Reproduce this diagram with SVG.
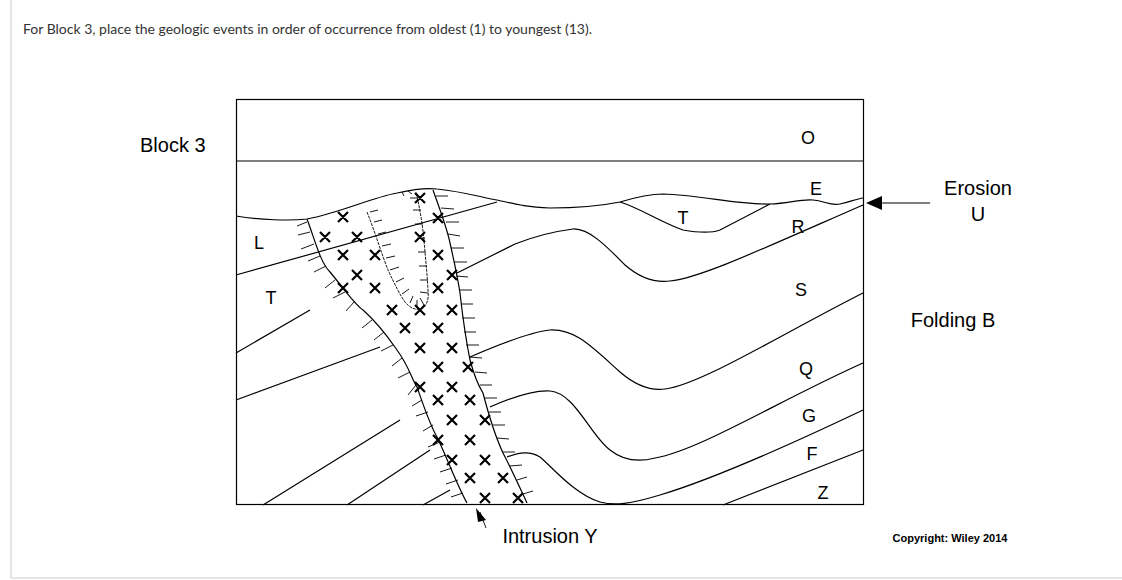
<svg xmlns="http://www.w3.org/2000/svg" width="1122" height="580" viewBox="0 0 1122 580">
<style>
.l{fill:none;stroke:#000;stroke-width:1.2}
.h{fill:none;stroke:#000;stroke-width:0.9}
.x{stroke:#000;stroke-width:2.2}
.t{font-family:"Liberation Sans",Arial,sans-serif;font-size:20px;fill:#000}
.s{font-family:"Liberation Sans",Arial,sans-serif;font-size:18px;fill:#000}
</style>
<rect x="0" y="0" width="1122" height="580" fill="#fff"/>
<path d="M11 0V578H1122" fill="none" stroke="#ccc"/>
<text x="23" y="34" style="font-family:Lato,'Liberation Sans',sans-serif;font-size:14px;fill:#333">For Block 3, place the geologic events in order of occurrence from oldest (1) to youngest (13).</text>
<text x="140" y="152" class="t">Block 3</text>
<g id="block">
<rect x="236.5" y="99.5" width="627" height="405" class="l"/>
<line x1="236" y1="161" x2="864" y2="161" class="l"/>
</g>
<g id="strata">
<path class="l" d="M236 216C260 220 290 221 307 219C340 213 370 198 397 193C415 189 430 188 437 189C465 192 480 197 497 200C515 204 525 207 550 208C580 208 605 205 620 202C640 196 655 194 663 194C700 195 740 205 770 204C790 203 800 199 813 200C825 201 830 206 840 204C850 202 856 199 863 198"/>
<path class="l" d="M620 202C640 208 660 222 683 230C700 233 712 233 720 230L770 204"/>
<path class="l" d="M236 275L497 202"/>
<path class="l" d="M236 353L310 310M457 273L515 244C530 238 550 232 573 229C590 228 610 250 625 265C640 278 655 283 670 281C700 278 760 250 863 205"/>
<path class="l" d="M236 400L380 347M470 357C500 344 530 332 550 330C575 329 590 345 620 372C635 385 650 391 665 389C700 385 780 335 863 293"/>
<path class="l" d="M263 505L400 420M490 407C515 396 535 390 550 391C575 393 590 435 610 450C625 462 640 462 655 458C700 450 780 400 863 363"/>
<path class="l" d="M347 505L430 450M507 457C520 452 530 451 540 457C550 465 575 495 600 502C615 506 630 504 660 495C720 477 800 440 863 410"/>
<path class="l" d="M423 505L450 490M723 505L863 450"/>
</g>
<g id="dike">
<path class="l" d="M307 219C315 240 320 262 330 272C345 290 355 305 363 310C380 325 390 340 397 350C410 368 412 380 417 387C425 410 430 425 437 437C448 460 457 485 467 503"/>
<path class="l" d="M433 190C440 210 447 228 450 243C455 265 458 280 460 293C463 320 466 340 470 360C474 375 478 385 483 393C490 420 497 440 503 453C512 470 520 488 527 503"/>
<path class="h" stroke-dasharray="3 1" d="M367 212C375 232 382 255 388 270C395 285 400 295 405 302C410 308 415 310 420 309C427 307 429 300 428 290C427 270 425 255 424 240C422 220 419 205 416 192"/>
<g class="h">
<path d="M307 222l-10 4M310 232l-12 3M314 244l-13 5M320 256l-12 5M326 266l-12 6M335 280l-10 8M345 292l-12 6M354 302l-8 9M372 320l-10 8M384 332l-10 8M393 345l-12 6M402 358l-10 8M410 372l-12 6M416 385l-8 10M422 400l-10 6M428 412l-12 4M433 425l-10 6M440 442l-12 5M446 455l-12 4M452 468l-12 4M458 480l-12 4M463 493l-12 4"/>
<path d="M436 196l12 0M441 208l13 1M446 222l13 0M448 234l12 2M451 248l13 0M454 262l13 0M456 276l12 1M459 290l13 0M461 304l12 0M462 318l13 0M464 332l12 0M466 345l13 0M469 357l13 1M475 372l12 1M480 385l12 0M485 398l12 0M489 412l12 0M493 425l12 0M497 438l12 1M503 452l12 0M510 466l12-1M517 480l10-3M523 494l10-3"/>
<path d="M370 212l8-2M374 222l8-2M378 234l8-2M382 246l9-2M386 258l9-2M390 270l9-3M396 282l8-4M402 294l7-5M410 303l3-7M417 308l0-8M424 305l-4-7M428 293l-8-1M428 280l-8 0M427 266l-8 0M426 252l-8 0M425 238l-8 0M423 224l-8 0M421 210l-8 0M418 198l-8 0M412 194l-4-3M404 196l-2-4"/>
</g>
<g class="x">
<path d="M415 193l10 10M425 193l-10 10M338 212l10 10M348 212l-10 10M433 213l10 10M443 213l-10 10M320 232l10 10M330 232l-10 10M352 232l10 10M362 232l-10 10M415 232l10 10M425 232l-10 10M338 250l10 10M348 250l-10 10M370 250l10 10M380 250l-10 10M433 250l10 10M443 250l-10 10M352 270l10 10M362 270l-10 10M447 270l10 10M457 270l-10 10M338 283l10 10M348 283l-10 10M370 283l10 10M380 283l-10 10M433 283l10 10M443 283l-10 10M387 305l10 10M397 305l-10 10M415 305l10 10M425 305l-10 10M447 305l10 10M457 305l-10 10M400 323l10 10M410 323l-10 10M433 323l10 10M443 323l-10 10M415 343l10 10M425 343l-10 10M447 343l10 10M457 343l-10 10M433 362l10 10M443 362l-10 10M463 362l10 10M473 362l-10 10M415 382l10 10M425 382l-10 10M447 382l10 10M457 382l-10 10M433 395l10 10M443 395l-10 10M465 395l10 10M475 395l-10 10M447 415l10 10M457 415l-10 10M480 415l10 10M490 415l-10 10M433 435l10 10M443 435l-10 10M465 435l10 10M475 435l-10 10M447 455l10 10M457 455l-10 10M480 455l10 10M490 455l-10 10M465 473l10 10M475 473l-10 10M498 473l10 10M508 473l-10 10M480 493l10 10M490 493l-10 10M513 493l10 10M523 493l-10 10"/>
</g>
</g>
<g id="connectors">
<path d="M476 508L486 520L478 522Z" fill="#000"/>
<line x1="480" y1="512" x2="486" y2="528" class="h"/>
<line x1="878" y1="203" x2="930" y2="203" class="l"/>
<path d="M866 203L882 196L882 210Z" fill="#000"/>
</g>
<g id="labels">
<text x="808" y="144" class="s" text-anchor="middle">O</text>
<text x="816" y="195" class="s" text-anchor="middle">E</text>
<text x="798" y="233" class="s" text-anchor="middle">R</text>
<text x="683" y="224" class="s" text-anchor="middle">T</text>
<text x="259" y="249" class="s" text-anchor="middle">L</text>
<text x="271" y="304" class="s" text-anchor="middle">T</text>
<text x="801" y="296" class="s" text-anchor="middle">S</text>
<text x="806" y="375" class="s" text-anchor="middle">Q</text>
<text x="809" y="422" class="s" text-anchor="middle">G</text>
<text x="812" y="460" class="s" text-anchor="middle">F</text>
<text x="823" y="499" class="s" text-anchor="middle">Z</text>
<text x="978" y="195" class="t" text-anchor="middle">Erosion</text>
<text x="978" y="221" class="t" text-anchor="middle">U</text>
<text x="953" y="327" class="t" text-anchor="middle">Folding B</text>
<text x="550" y="543" class="t" text-anchor="middle">Intrusion Y</text>
<text x="950" y="542" text-anchor="middle" style="font-family:'Liberation Sans',Arial,sans-serif;font-size:11px;font-weight:bold">Copyright: Wiley 2014</text>
</g>
</svg>
